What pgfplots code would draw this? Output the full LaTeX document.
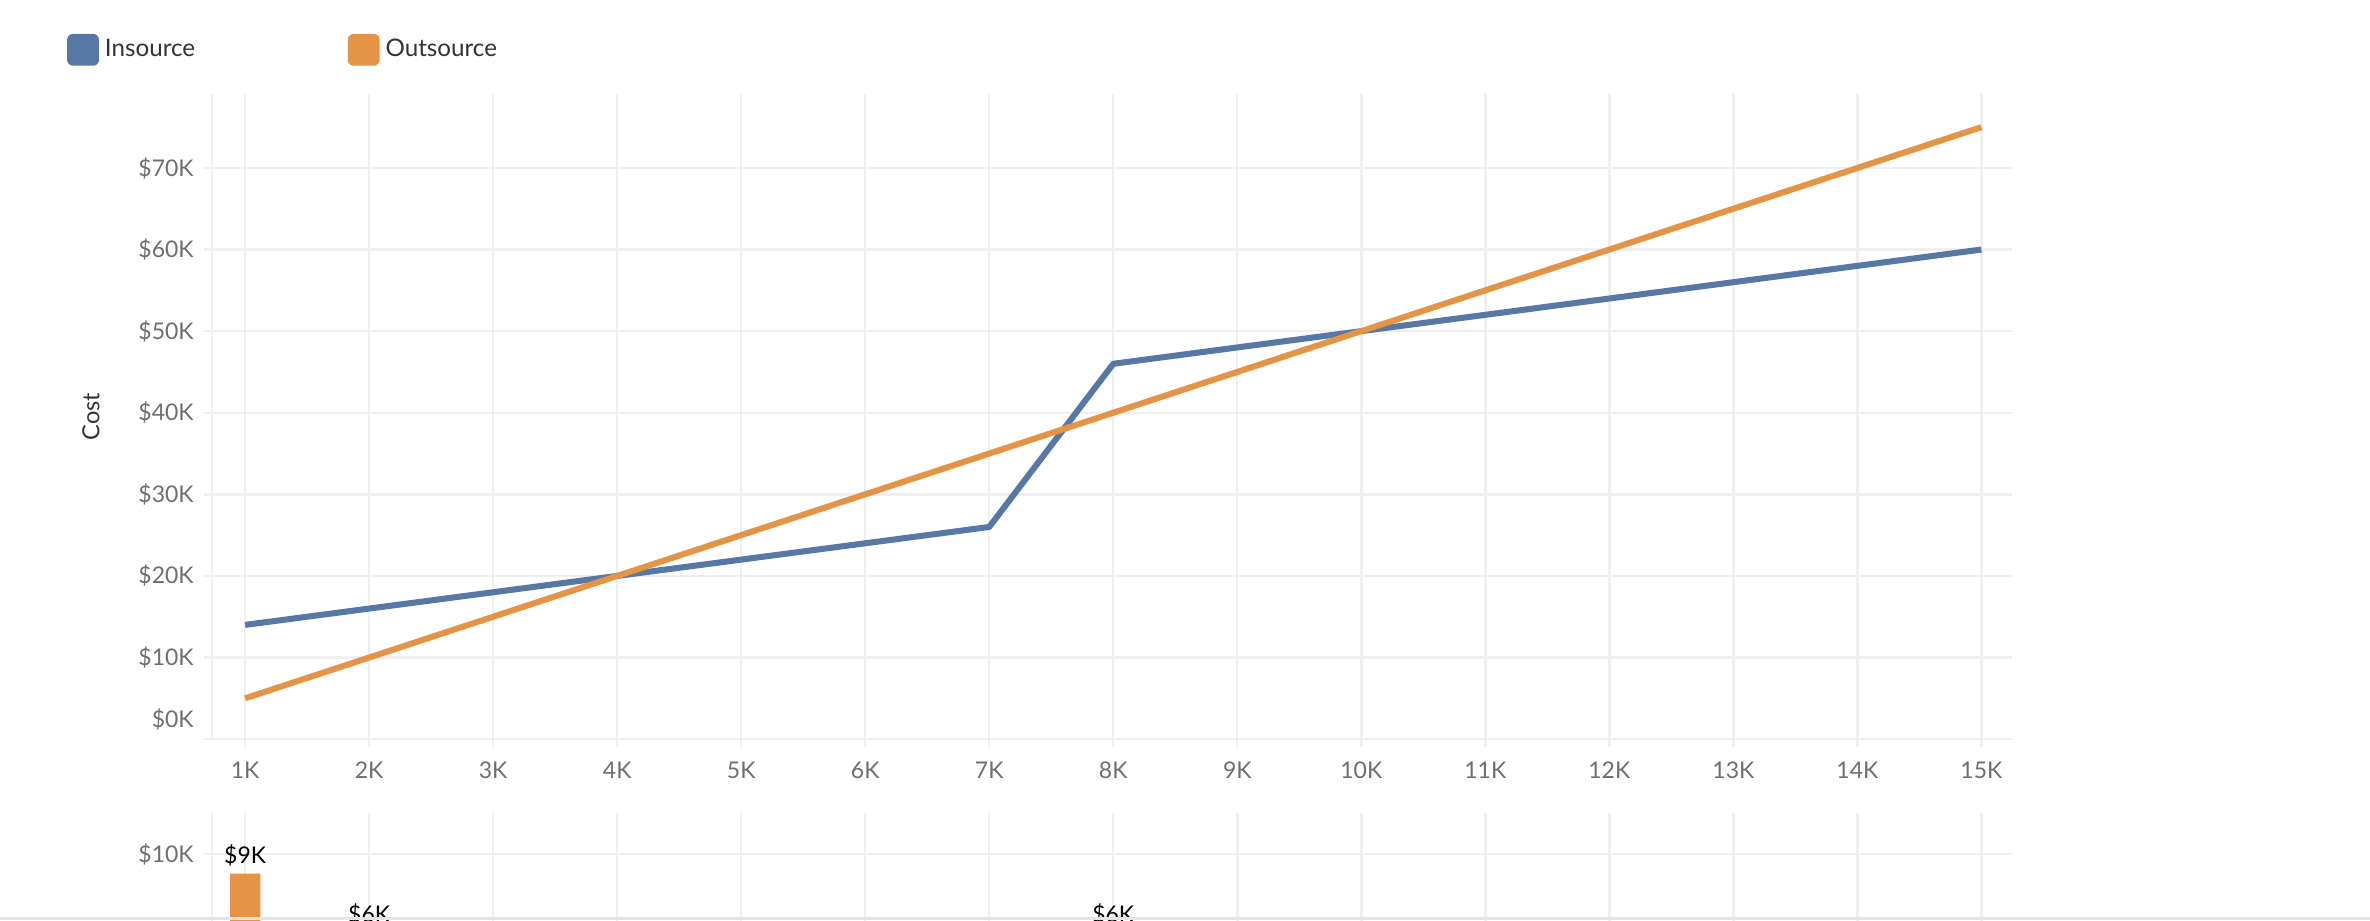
\documentclass[border=0pt]{standalone}
\usepackage{fontspec}
\setmainfont{Lato}
\usepackage{pgfplots}
\usepackage{pgfplotstable}
\pgfplotsset{compat=1.18}

\definecolor{insrc}{HTML}{5778A4}
\definecolor{outsrc}{HTML}{E49444}
\definecolor{gridc}{HTML}{EFEFEF}
\definecolor{tickc}{HTML}{6E6E6E}
\definecolor{txt}{HTML}{333333}
\definecolor{sepc}{HTML}{E4E4E4}

% volume (K), insource cost (K$), outsource cost (K$)
\pgfplotstableread{
vol insource outsource
1  14  5
2  16  10
3  18  15
4  20  20
5  22  25
6  24  30
7  26  35
8  46  40
9  48  45
10 50  50
11 52  55
12 54  60
13 56  65
14 58  70
15 60  75
}\costs

\begin{document}
\begin{tikzpicture}
\useasboundingbox (0pt,0pt) rectangle (784pt,-304.5pt);
\clip (0pt,0pt) rectangle (784pt,-304.5pt);

\pgfplotsset{
  panel/.style={
    scale only axis, width=595.6pt,
    xmin=0.732, xmax=15.25,
    axis x line*=bottom, axis y line*=left,
    axis line style={gridc, line width=0.8pt},
    grid=major, major grid style={gridc, line width=0.8pt},
    tick style={gridc, line width=0.8pt}, major tick length=2.5pt, tick align=outside,
    tick label style={font=\fontsize{7.6}{9}\selectfont, text=tickc},
    xtick={1,...,15},
  },
}

% main line chart
\begin{axis}[panel,
  at={(70.1pt,-244.5pt)}, anchor=south west,
  height=213.5pt,
  ymin=0, ymax=79.1,
  xticklabels={1K,2K,3K,4K,5K,6K,7K,8K,9K,10K,11K,12K,13K,14K,15K},
  xticklabel style={yshift=-1.5pt},
  ytick={10,20,30,40,50,60,70},
  yticklabels={\$10K,\$20K,\$30K,\$40K,\$50K,\$60K,\$70K},
  extra y ticks={0}, extra y tick labels={\$0K},
  extra y tick style={yticklabel style={yshift=6.5pt}},
  ylabel={Cost},
  ylabel style={at={(axis description cs:-0.0672,0.5)}, anchor=center,
    font=\fontsize{7.8}{9}\selectfont, text=txt},
  legend columns=2,
  legend style={at={(axis description cs:-0.0807,1.068)}, anchor=west,
    draw=none, fill=none, inner sep=0pt,
    font=\fontsize{8}{10}\selectfont, text=txt,
    /tikz/every even column/.append style={column sep=48.5pt}},
  legend cell align=left,
  legend image code/.code={\fill[#1, rounded corners=0.6pt] (0pt,-4.25pt) rectangle (8.5pt,4.25pt);},
  clip=false,
]
\addplot[insrc, line width=2pt, line join=round] table[x=vol, y=insource] {\costs};
\addplot[outsrc, line width=2pt, line join=round] table[x=vol, y=outsource] {\costs};
\legend{Insource, Outsource}
\end{axis}

% lower panel: insource minus outsource, cut off by the frame
\begin{axis}[panel,
  at={(70.1pt,-269pt)}, anchor=north west,
  height=182.5pt,
  ymin=-16, ymax=12.08,
  xticklabels={},
  ytick={10},
  yticklabels={\$10K},
  ybar, bar width=10pt, bar shift=0pt,
  /pgf/number format/assume math mode=true,
  every node near coord/.append style={font=\fontsize{7.6}{9}\selectfont, text=black, yshift=-1pt},
]
\addplot[fill=outsrc, draw=none,
  nodes near coords={\$\pgfmathprintnumber{\pgfplotspointmeta}K}]
  coordinates {(1,9) (2,6) (8,6)};
% bars that lie below the visible strip
\addplot[fill=outsrc, draw=none] coordinates {(3,3) (9,3)};
\addplot[fill=insrc, draw=none] coordinates {(5,-3) (6,-6) (7,-9) (11,-3) (12,-6) (13,-9) (14,-12) (15,-15)};
\end{axis}

\fill[sepc] (0pt,-303.3pt) rectangle (784pt,-304.2pt);
\end{tikzpicture}
\end{document}
